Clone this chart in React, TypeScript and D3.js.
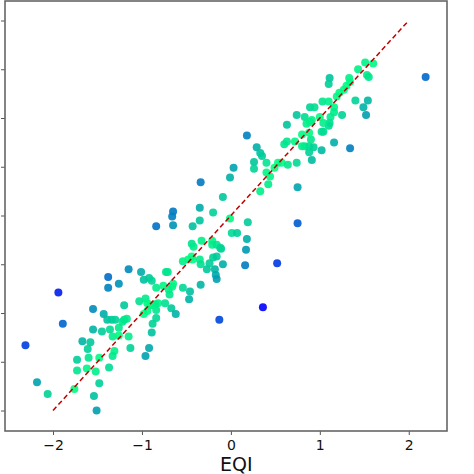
import { useEffect, useRef } from "react";
import * as d3 from "d3";

// observed EQI (x) vs predicted (y)
const eqiX = [
  -2.31, -2.18, -2.06, -1.94, -1.89, -1.76, -1.73, -1.73, -1.67, -1.58, -1.61, -1.6, -1.62, -1.55, -1.55,
  -1.52, -1.54, -1.51, -1.48, -1.48, -1.45, -1.43, -1.39, -1.36, -1.34, -1.3, -1.26, -1.33, -1.31, -1.33,
  -1.37, -1.26, -1.2, -1.17, -1.2, -1.15, -1.13, -1.38, -1.38, -1.26, -1.15, -1.01, -0.98, -0.92, -0.89,
  -0.84, -0.92, -0.96, -0.88, -0.89, -0.84, -0.84, -1.03, -0.96, -0.94, -0.91, -0.88, -0.85, -0.82, -0.94,
  -0.98, -0.74, -0.67, -0.62, -0.73, -0.71, -0.76, -0.7, -0.66, -0.69, -0.65, -0.54, -0.54, -0.48, -0.43,
  -0.46, -0.47, -0.44, -0.42, -0.35, -0.34, -0.34, -0.27, -0.24, -0.21, -0.2, -0.18, -0.17, -0.16, -0.16,
  -0.11, -0.09, -0.13, -1.22, -0.44, -0.34, -0.65, -0.66, -0.65, -0.84, -0.35, -0.35, -0.2, -0.43, -0.09,
  -0.01, 0.01, 0.07, 0.19, 0.18, 0.17, 0.16, -0.33, -0.21, -0.16, -0.12, -0.01, 0.03, 0.52, 0.36,
  0.18, 0.29, 0.33, 0.35, 0.26, 0.26, 0.4, 0.53, 0.57, 0.64, 0.74, 0.4, 0.44, 0.42, 0.33,
  0.49, 0.75, 0.75, 0.63, 0.6, 0.63, 0.72, 0.8, 0.83, 0.88, 0.91, 0.88, 0.93, 0.9, 0.88,
  1.02, 1.04, 1.02, 1.16, 1.34, 0.74, 0.83, 0.85, 0.89, 0.91, 1.0, 0.89, 0.94, 1.03, 1.1,
  1.16, 1.16, 1.12, 1.11, 1.1, 1.25, 1.4, 1.54, 1.49, 1.52, 1.19, 1.22, 1.27, 1.3, 1.33,
  1.34, 1.11, 1.1, 1.43, 1.51, 1.6, 1.53, 1.55, 2.19, 1.04, 0.8,
];
const eqiY = [
  -1.33, -1.71, -1.83, -0.79, -1.11, -1.78, -1.48, -1.59, -1.29, -1.3, -1.37, -1.46, -1.57, -0.96, -1.17,
  -1.6, -1.85, -2.0, -1.72, -1.46, -1.19, -1.01, -1.07, -1.17, -1.07, -1.07, -1.15, -1.24, -1.39, -1.44,
  -1.56, -1.23, -1.07, -1.06, -0.92, -1.24, -1.36, -0.63, -0.74, -0.7, -0.55, -0.58, -0.66, -0.64, -0.67,
  -0.74, -1.36, -1.44, -1.11, -1.2, -1.05, -0.97, -0.88, -0.85, -0.9, -0.92, -0.92, -0.91, -0.9, -0.98,
  -1.01, -0.9, -0.95, -1.01, -0.58, -0.58, -0.72, -0.76, -0.73, -0.81, -0.7, -0.74, -0.47, -0.45, -0.45,
  -0.78, -0.86, -0.29, -0.32, -0.45, -0.5, -0.71, -0.55, -0.49, -0.26, -0.43, -0.55, -0.61, -0.65, -0.42,
  -0.34, -0.5, -1.07, -1.09, -0.42, 0.34, 0.04, -0.01, -0.1, -0.11, 0.08, -0.05, 0.03, -0.11, 0.19,
  -0.03, -0.18, -0.18, -0.07, -0.24, -0.35, -0.51, -0.26, -0.3, -0.3, -0.33, 0.39, 0.49, -0.49, -0.94,
  0.82, 0.7, 0.64, 0.61, 0.55, 0.48, 0.54, 0.54, 0.54, 0.52, 0.54, 0.44, 0.4, 0.32, 0.25,
  0.49, 0.29, -0.08, 0.93, 0.73, 0.76, 0.76, 0.83, 0.71, 0.65, 0.57, 0.71, 0.7, 0.78, 0.85,
  0.86, 0.86, 0.67, 0.75, 0.69, 1.03, 1.01, 0.94, 0.96, 0.98, 1.01, 1.11, 1.11, 1.17, 1.17,
  1.11, 1.06, 1.01, 0.95, 0.92, 1.03, 1.18, 1.18, 1.11, 1.03, 1.22, 1.26, 1.29, 1.33, 1.41,
  1.37, 1.41, 1.35, 1.5, 1.57, 1.56, 1.44, 1.42, 1.42, 0.95, 0.71,
];
const xTicks = [-2, -1, 0, 1, 2];
const yTicks = [-2, -1.5, -1, -0.5, 0, 0.5, 1, 1.5, 2];
const xLabel = "EQI";

export default function App() {
  const ref = useRef<SVGSVGElement>(null);

  useEffect(() => {
    const width = 474;
    const height = 474;
    const margin = { top: 1, right: 27, bottom: 43, left: 5 };

    const svg = d3.select(ref.current);
    svg.selectAll("*").remove();

    const x = d3
      .scaleLinear()
      .domain([-2.54, 2.43])
      .range([margin.left, width - margin.right]);
    const y = d3
      .scaleLinear()
      .domain([-2.21, 2.2])
      .range([height - margin.bottom, margin.top]);

    const pts = eqiX.map((v, i) => ({ x: v, y: eqiY[i], r: Math.abs(eqiY[i] - v) }));
    const maxR = d3.max(pts, (d) => d.r) as number;
    const color = (r: number) =>
      d3.interpolateRgb("#0000ff", "#00ff80")(1 - Math.min(1, r / maxR));

    // points
    svg
      .append("g")
      .selectAll("circle")
      .data(pts)
      .join("circle")
      .attr("cx", (d) => x(d.x))
      .attr("cy", (d) => y(d.y))
      .attr("r", 4)
      .attr("fill", (d) => color(d.r))
      .attr("fill-opacity", 0.9);

    // identity line
    svg
      .append("line")
      .attr("x1", x(-2))
      .attr("y1", y(-2))
      .attr("x2", x(2))
      .attr("y2", y(2))
      .attr("stroke", "#c00000")
      .attr("stroke-width", 1.5)
      .attr("stroke-dasharray", "5,3");

    const xAxis = svg
      .append("g")
      .attr("transform", `translate(0,${height - margin.bottom})`)
      .call(d3.axisBottom(x).tickValues(xTicks).tickSize(4).tickPadding(5).tickFormat(d3.format("")));
    xAxis.select(".domain").remove();
    xAxis.selectAll("line").attr("stroke", "#555");
    xAxis
      .selectAll("text")
      .attr("font-family", "DejaVu Sans")
      .attr("font-size", 14)
      .attr("fill", "#111");

    const yAxis = svg
      .append("g")
      .attr("transform", `translate(${margin.left},0)`)
      .call(d3.axisLeft(y).tickValues(yTicks).tickSize(4).tickFormat(() => ""));
    yAxis.select(".domain").remove();
    yAxis.selectAll("line").attr("stroke", "#555");

    // frame
    svg
      .append("rect")
      .attr("x", margin.left)
      .attr("y", margin.top)
      .attr("width", width - margin.left - margin.right)
      .attr("height", height - margin.top - margin.bottom)
      .attr("fill", "none")
      .attr("stroke", "#666")
      .attr("stroke-width", 1.6);

    svg
      .append("text")
      .attr("x", x(0.06))
      .attr("y", height - 3)
      .attr("text-anchor", "middle")
      .attr("font-family", "DejaVu Sans")
      .attr("font-size", 19)
      .attr("fill", "#111")
      .text(xLabel);
  }, []);

  return (
    <svg
      ref={ref}
      width={474}
      height={474}
      style={{ position: "absolute", left: 0, top: 0, background: "#fff" }}
    ></svg>
  );
}
